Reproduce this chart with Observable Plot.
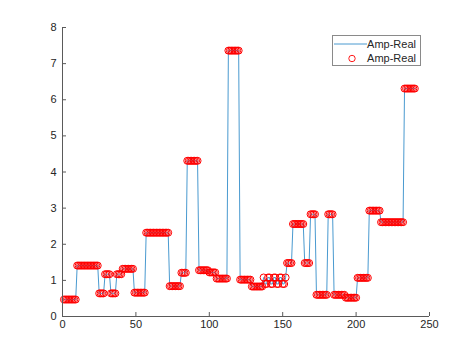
<!DOCTYPE html>
<html><head><meta charset="utf-8">
<script src="https://cdn.jsdelivr.net/npm/d3@7"></script>
<script src="https://cdn.jsdelivr.net/npm/@observablehq/plot@0.6"></script>
<style>body{margin:0;background:#fff}</style>
</head><body><div id="chart"></div>
<script>
// Run-length encoded series: each run = number of consecutive samples with same value
const runLengths = [9,15,4,4,4,4,8,8,16,8,4,8,7,5,8,8,8,8,
  1,2,2,2,2,2,2,2,1,
  4,8,4,4,8,4,8,8,8,8,16,8];
const runValues = [0.47,1.41,0.64,1.17,0.64,1.17,1.32,0.66,2.32,0.84,1.21,4.31,1.28,1.22,1.05,7.36,1.02,0.83,
  1.08,0.9,1.08,0.9,1.08,0.9,1.08,0.9,1.08,
  1.48,2.56,1.48,2.83,0.6,2.83,0.6,0.52,1.07,2.93,2.61,6.31];
const xTicks = [0,50,100,150,200,250];
const yTicks = [0,1,2,3,4,5,6,7,8];
const seriesName = "Amp-Real";
const lineColor = "#4a9ad0";
const dotColor = "#ff0000";

const data = [];
let idx = 1;
runLengths.forEach((n, k) => { for (let j = 0; j < n; j++) data.push({i: idx++, v: runValues[k]}); });

const W = 474, H = 355, mL = 62, mR = 45, mT = 27, mB = 39;
const plotW = W - mL - mR, plotH = H - mT - mB;
const axisColor = "#5a5a5a";

const chart = Plot.plot({
  width: W, height: H,
  marginLeft: mL, marginRight: mR, marginTop: mT, marginBottom: mB,
  style: {fontSize: "11px", fontFamily: "'Liberation Sans', Arial, sans-serif", color: "#262626", background: "#fff"},
  x: {domain: [0, 250]},
  y: {domain: [0, 8]},
  marks: [
    Plot.line(data, {x: "i", y: "v", stroke: lineColor, strokeWidth: 1}),
    Plot.dot(data, {x: "i", y: "v", r: 3.5, stroke: dotColor, fill: "none", strokeWidth: 1}),
    Plot.ruleY([0], {stroke: axisColor, strokeWidth: 1}),
    Plot.ruleX([0], {stroke: axisColor, strokeWidth: 1}),
    Plot.tickX(xTicks, {x: d => d, insetTop: plotH - 4, stroke: axisColor}),
    Plot.tickY(yTicks, {y: d => d, insetRight: plotW - 4, stroke: axisColor}),
    Plot.axisX(xTicks, {tickSize: 0, tickPadding: 4, label: null, tickFormat: d3.format("d")}),
    Plot.axisY(yTicks, {tickSize: 0, tickPadding: 6, label: null, tickFormat: d3.format("d")})
  ]
});
document.getElementById("chart").appendChild(chart);

// Legend inside the axes (top-right)
const svg = d3.select(chart);
const lg = svg.append("g").attr("font-family", "'Liberation Sans', Arial, sans-serif").attr("font-size", 11).attr("fill", "#262626");
lg.append("rect").attr("x", 332.5).attr("y", 35.5).attr("width", 88).attr("height", 30)
  .attr("fill", "#fff").attr("stroke", "#8a8a8a").attr("stroke-width", 1);
lg.append("line").attr("x1", 334).attr("x2", 367).attr("y1", 44).attr("y2", 44)
  .attr("stroke", lineColor).attr("stroke-width", 1);
lg.append("circle").attr("cx", 352).attr("cy", 58.5).attr("r", 3.2)
  .attr("fill", "none").attr("stroke", dotColor).attr("stroke-width", 0.9);
lg.append("text").attr("x", 416).attr("y", 44).attr("dy", "0.35em").attr("text-anchor", "end").text(seriesName);
lg.append("text").attr("x", 416).attr("y", 58.5).attr("dy", "0.35em").attr("text-anchor", "end").text(seriesName);
</script>
</body></html>
